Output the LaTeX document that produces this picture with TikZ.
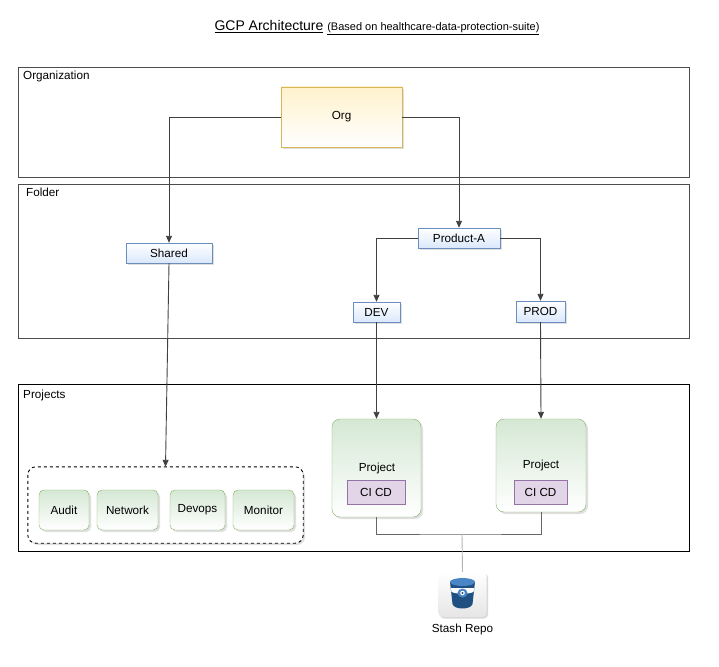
\documentclass[tikz,border=0pt]{standalone}
\usepackage{fontspec}
\setmainfont{Liberation Sans}
\usetikzlibrary{arrows.meta,shadows}
\definecolor{bfill}{HTML}{DAE8FC}\definecolor{bline}{HTML}{6C8EBF}
\definecolor{gfill}{HTML}{D5E8D4}\definecolor{gline}{HTML}{82B366}
\definecolor{yfill}{HTML}{FFF2CC}\definecolor{yline}{HTML}{D6B656}
\definecolor{pfill}{HTML}{E1D5E7}\definecolor{pline}{HTML}{9673A6}
\definecolor{stblue}{HTML}{205081}\definecolor{stlight}{HTML}{4A86C5}
\begin{document}
\begin{tikzpicture}[x=1pt,y=-1pt,font=\fontsize{11.7}{14}\selectfont,
  lane/.style={draw=black!70,line width=0.8pt},
  lbl/.style={anchor=north west,inner sep=0},
  shad/.style={drop shadow={opacity=0.25,shadow xshift=2pt,shadow yshift=-2pt}},
  blue/.style={draw=bline,top color=white,bottom color=bfill,shad},
  green/.style={draw=gline,top color=gfill,bottom color=white,rounded corners=8pt,shad},
  purple/.style={draw=pline,fill=pfill},
  conn/.style={draw=black!75,line width=0.9pt},
  arr/.style={conn,-{Triangle[length=7pt,width=6pt]}}]
\useasboundingbox (0,0) rectangle (719,666);
\node[font=\fontsize{14}{16}\selectfont] (title) at (377,28) {\underline{GCP Architecture} {\fontsize{11}{13}\selectfont\underline{(Based on healthcare-data-protection-suite)}}};
\draw[lane] (18,67) rectangle (689,177);
\node[lbl] (lorg) at (23,71) {Organization};
\draw[lane] (18,184) rectangle (689,338);
\node[lbl] (lfold) at (26,188) {Folder};
\draw[lane,draw=black,line width=1pt] (18,384) rectangle (689,551);
\node[lbl] (lproj) at (23,390) {Projects};
\node[draw=yline,top color=yfill,bottom color=white,minimum width=121pt,minimum height=60pt,shad] (org) at (341.5,117) {Org};
\node[blue,minimum width=86pt,minimum height=20pt] (shared) at (169,253) {Shared};
\node[blue,minimum width=82pt,minimum height=20pt] (proda) at (459,238) {Product-A};
\node[blue,minimum width=47pt,minimum height=20pt] (dev) at (376.5,312) {DEV};
\node[blue,minimum width=49pt,minimum height=21pt] (prod) at (540.5,311.5) {PROD};
\node[green,minimum width=89pt,minimum height=98pt] (p1) at (376.5,468) {};
\node[green,minimum width=90pt,minimum height=93pt] (p2) at (541,465.5) {};
\node (p1t) at (377,468) {Project};
\node (p2t) at (541,465) {Project};
\node[purple,minimum width=58pt,minimum height=24pt] (c1) at (376,492) {CI CD};
\node[purple,minimum width=53pt,minimum height=24pt] (c2) at (540.5,492) {CI CD};
\node[fill=white,rounded corners=8pt,minimum width=275pt,minimum height=76pt,shad] (grp) at (165.5,505) {};
\draw[black,dashed,line width=0.9pt,rounded corners=8pt] (grp.north west) rectangle (grp.south east);
\node[green,rounded corners=5pt,minimum width=50pt,minimum height=40pt] (audit) at (64,510) {Audit};
\node[green,rounded corners=5pt,minimum width=61pt,minimum height=40pt] (net) at (127.5,510) {Network};
\node[green,rounded corners=5pt,minimum width=55pt,minimum height=40pt] (devops) at (197.5,510) {Devops};
\node[green,rounded corners=5pt,minimum width=61pt,minimum height=40pt] (mon) at (263.5,510) {Monitor};
% stash icon
\node[top color=white,bottom color=black!10,rounded corners=4pt,minimum width=48pt,minimum height=45pt,drop shadow={opacity=0.3,shadow xshift=1.5pt,shadow yshift=-1.5pt}] (stash) at (462.5,594.5) {};
\fill[stblue] (450,582) -- (475,582) -- (472.5,604) .. controls (471,610) and (454,610) .. (452.5,604) -- cycle;
\fill[stlight] (462.5,582) ellipse (12.5pt and 4pt);
\fill[white] (451,588) -- (474,588) -- (473.6,592) .. controls (466,594.5) and (459,594.5) .. (451.4,592) -- cycle;
\fill[stlight] (462.5,593) ellipse (5pt and 4.5pt);
\fill[white] (462.5,593) ellipse (2.3pt and 2.3pt);
\fill[stblue] (462.5,593) ellipse (1.1pt and 1.1pt);
\node (stl) at (462.5,629) {Stash Repo};
\coordinate (j) at (462,534);
\draw[arr] (org.west) -| (shared.north);
\draw[arr] (org.east) -| (proda.north);
\draw[arr] (proda.west) -| (dev.north);
\draw[arr] (proda.east) -| (prod.north);
\draw[arr] (dev.south) -- (p1.north);
\draw[arr] (prod.south) -- (p2.north);
\draw[arr] (shared.south) -- (grp.north);
\draw[conn,draw=black!60] (p1.south) |- (j) -| (p2.south);
\draw[conn,draw=black!30] (j) -- (stash.north);
\end{tikzpicture}
\end{document}
